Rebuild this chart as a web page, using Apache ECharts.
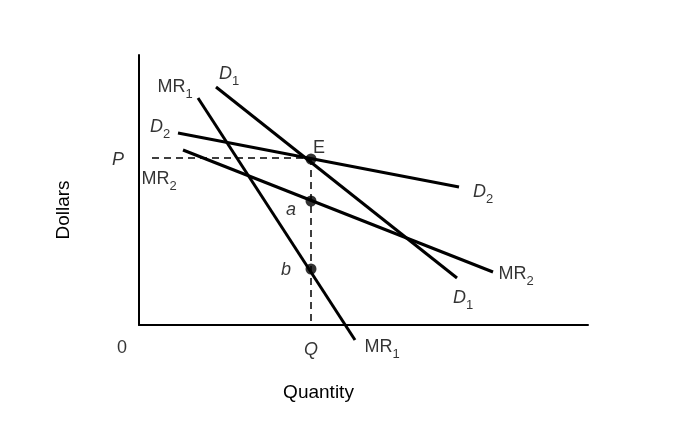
<!DOCTYPE html>
<html><head><meta charset="utf-8">
<script src="https://cdn.jsdelivr.net/npm/echarts@6/dist/echarts.min.js"></script>
<style>html,body{margin:0;background:#fff}#c{width:676px;height:430px}</style>
</head><body><div id="c"></div>
<script>
// coordinates in data units (x right from origin, y up from x-axis)
const D1 = [[77,238],[318,47]];
const MR1 = [[59,227],[216,-15]];
const D2 = [[39,192],[320,138]];
const MR2 = [[44,175],[354,53]];
const dashH = [[13,167],[172,167]];
const dashV = [[172,167],[172,0]];
const points = [[172,166],[172,124],[172,56]];
// [x, y, text]
const labels = [
  [36,238,'{n|MR}{s|1}'],[90,251,'{i|D}{s|1}'],[21,198,'{i|D}{s|2}'],
  [-21,165,'{i|P}'],[20,146,'{n|MR}{s|2}'],[180,177,'{n|E}'],
  [344,133,'{i|D}{s|2}'],[152,115,'{i|a}'],[147,55,'{i|b}'],
  [377,51,'{n|MR}{s|2}'],[324,27,'{i|D}{s|1}'],[243,-22,'{n|MR}{s|1}'],
  [-17,-23,'{n|0}'],[172,-25,'{i|Q}']
];
const rich = {
  n:{fontSize:18,color:'#000',fontFamily:'Liberation Sans'},
  i:{fontSize:18,color:'#000',fontStyle:'italic',fontFamily:'Liberation Sans'},
  s:{fontSize:13,color:'#000',fontFamily:'Liberation Sans',padding:[14,0,0,0]}
};
const line = (d,dash)=>({type:'line',data:d,symbol:'none',clip:false,silent:true,
  lineStyle:{color:'#000',width:dash?1.5:3,type:dash?[7,5]:'solid'}});
const chart = echarts.init(document.getElementById('c'));
chart.setOption({
  animation:false,
  grid:{left:139,top:55,width:449,height:270},
  xAxis:{type:'value',min:0,max:449,axisLine:{lineStyle:{color:'#000',width:2}},axisTick:{show:false},axisLabel:{show:false},splitLine:{show:false},
    name:'Quantity',nameLocation:'middle',nameGap:58,nameTextStyle:{fontSize:19,color:'#000',fontFamily:'Liberation Sans',padding:[0,90,0,0]}},
  yAxis:{type:'value',min:0,max:270,axisLine:{show:true,lineStyle:{color:'#000',width:2}},axisTick:{show:false},axisLabel:{show:false},splitLine:{show:false},
    name:'Dollars',nameLocation:'middle',nameGap:66,nameTextStyle:{fontSize:19,color:'#000',fontFamily:'Liberation Sans',padding:[0,40,0,0]}},
  series:[
    line(D1),line(MR1),line(D2),line(MR2),line(dashH,true),line(dashV,true),
    {type:'scatter',data:points,symbolSize:11,itemStyle:{color:'#000'},clip:false},
    {type:'scatter',data:labels,symbolSize:0,clip:false,
      label:{show:true,position:'inside',color:'#000',formatter:p=>p.data[2],rich}}
  ]
});
</script></body></html>
